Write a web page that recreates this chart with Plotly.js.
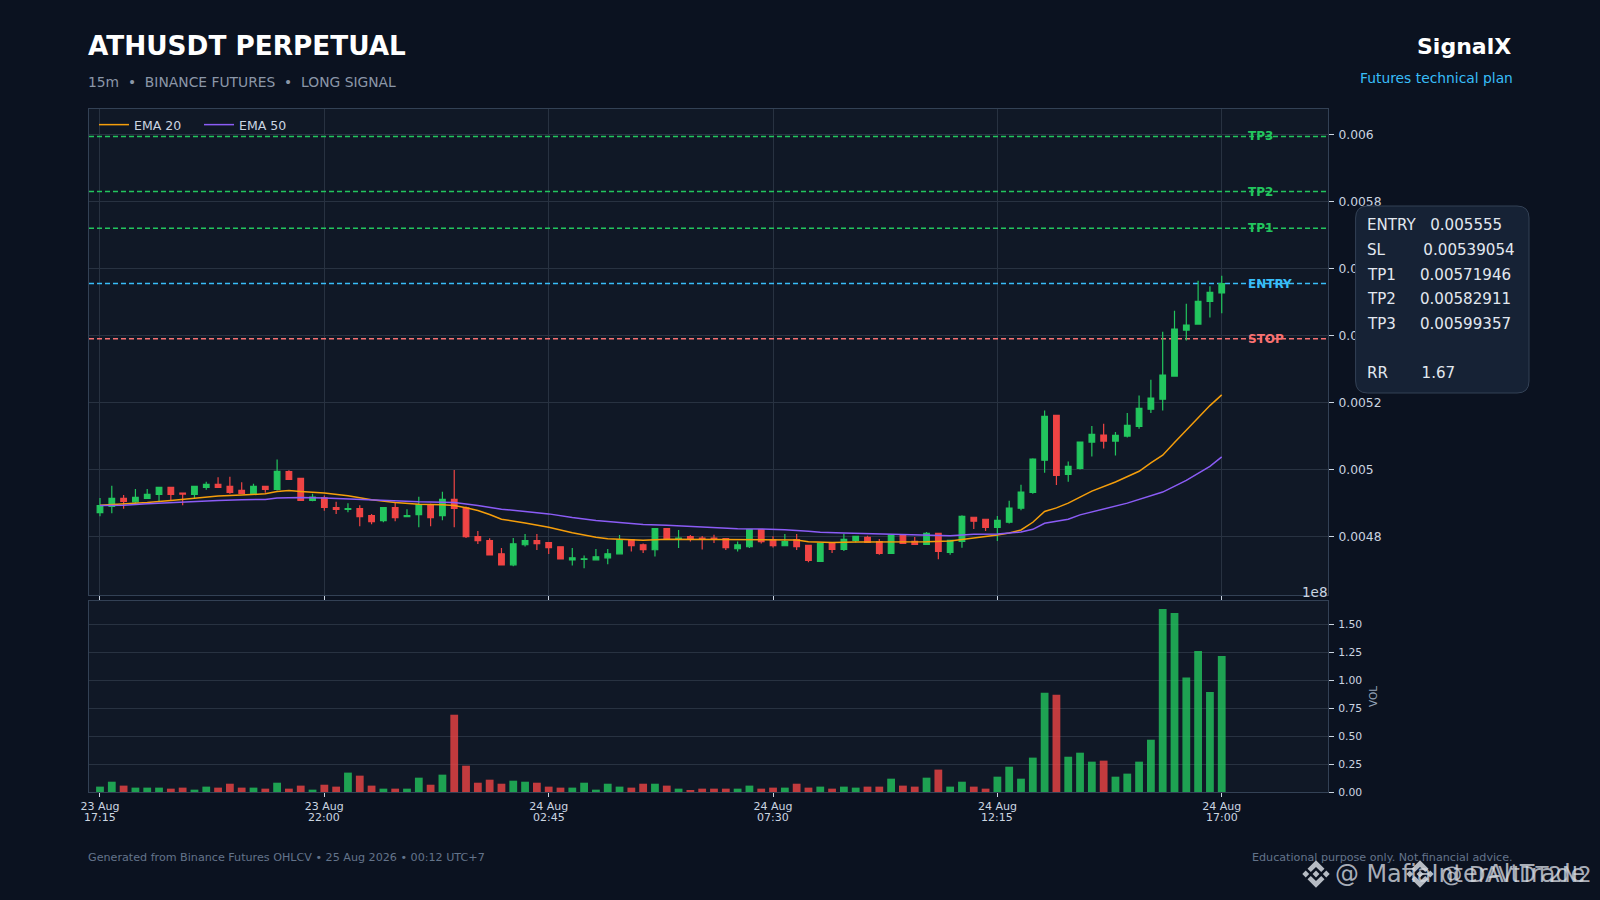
<!DOCTYPE html>
<html>
<head>
<meta charset="utf-8">
<script src="https://cdn.plot.ly/plotly-3.0.1.min.js"></script>
<style>html,body{margin:0;padding:0;background:#0b1220}#chart{width:1600px;height:900px}</style>
</head>
<body>
<div id="chart"></div>
<script>
const tick_index = [0, 19, 38, 57, 76, 95];
const tick_dates = ["23 Aug", "23 Aug", "24 Aug", "24 Aug", "24 Aug", "24 Aug"];
const tick_times = ["17:15", "22:00", "02:45", "07:30", "12:15", "17:00"];
const price_ticks = [0.0048, 0.005, 0.0052, 0.0054, 0.0056, 0.0058, 0.006];
const vol_ticks = [0, 0.25, 0.5, 0.75, 1, 1.25, 1.5];

const opens = [0.004872,0.00489,0.004914,0.004904,0.004914,0.004926,0.004947,0.00493,0.004926,0.004947,0.004956,0.00495,0.004938,0.004928,0.00495,0.004941,0.004994,0.004974,0.004908,0.004916,0.004887,0.004881,0.004884,0.004863,0.004848,0.004887,0.00486,0.004866,0.004896,0.004863,0.004911,0.004886,0.0048,0.004788,0.004749,0.004716,0.004776,0.004788,0.004782,0.00477,0.004731,0.004732,0.004731,0.004737,0.004749,0.004791,0.004776,0.004761,0.004824,0.004792,0.0048,0.004796,0.004796,0.004794,0.004764,0.00477,0.004821,0.004791,0.004773,0.004791,0.004774,0.004726,0.00478,0.004762,0.004789,0.004798,0.004785,0.00475,0.004804,0.004786,0.004777,0.00481,0.004753,0.004786,0.004858,0.004852,0.004828,0.004843,0.004885,0.004932,0.005028,0.005162,0.004986,0.005004,0.005082,0.005103,0.005085,0.0051,0.005129,0.00518,0.00521,0.005279,0.005416,0.005434,0.005502,0.005527];
const highs = [0.004915,0.004952,0.004924,0.004942,0.004942,0.004947,0.004948,0.004932,0.00495,0.004964,0.004977,0.004979,0.004962,0.004958,0.004952,0.00503,0.004998,0.004976,0.004928,0.004923,0.004904,0.0049,0.004894,0.004868,0.004887,0.004903,0.004882,0.004919,0.004898,0.004934,0.004999,0.00489,0.004817,0.004795,0.004766,0.004796,0.004808,0.004808,0.004782,0.004771,0.004766,0.004744,0.004763,0.004763,0.004805,0.004791,0.00478,0.004824,0.004826,0.00482,0.004805,0.004802,0.004806,0.004794,0.004786,0.004821,0.004821,0.004801,0.004808,0.004808,0.004774,0.004781,0.00478,0.004809,0.004801,0.004803,0.004793,0.004804,0.004804,0.004799,0.004814,0.00481,0.004791,0.004864,0.004858,0.004852,0.004862,0.004907,0.004955,0.005034,0.005176,0.005162,0.005024,0.005082,0.00513,0.005137,0.005112,0.005169,0.005221,0.005268,0.005411,0.005474,0.005495,0.005563,0.005547,0.005578];
const lows = [0.004861,0.00487,0.004883,0.004898,0.004914,0.004906,0.004908,0.004894,0.004914,0.00494,0.004947,0.004928,0.004929,0.004928,0.004931,0.004938,0.00497,0.004908,0.004906,0.004877,0.004868,0.004873,0.004831,0.004837,0.004843,0.004846,0.004858,0.004828,0.004831,0.004849,0.004828,0.004796,0.004778,0.004744,0.004714,0.004712,0.004771,0.00476,0.004748,0.004733,0.004714,0.004706,0.00473,0.004718,0.004749,0.004756,0.004751,0.004741,0.004792,0.004766,0.004786,0.004762,0.004781,0.00476,0.004756,0.004766,0.00478,0.004768,0.004773,0.00476,0.004724,0.004725,0.004751,0.004757,0.004783,0.004781,0.004746,0.004748,0.00478,0.004775,0.004777,0.004733,0.004746,0.004767,0.004823,0.004817,0.004787,0.004839,0.004879,0.004928,0.004991,0.004954,0.004964,0.005,0.005039,0.005063,0.005042,0.005096,0.005122,0.005169,0.005176,0.005277,0.005385,0.005434,0.005454,0.005466];
const closes = [0.004893,0.004914,0.004905,0.004917,0.004926,0.004947,0.004926,0.004927,0.00495,0.004956,0.004947,0.004932,0.004929,0.00495,0.004941,0.004995,0.004971,0.004908,0.004918,0.004887,0.004881,0.004884,0.00486,0.004845,0.004887,0.004857,0.004863,0.004896,0.004857,0.004911,0.004884,0.0048,0.004788,0.004746,0.004716,0.004779,0.004788,0.004779,0.004767,0.004734,0.004737,0.004734,0.00474,0.004749,0.004791,0.004773,0.004761,0.004824,0.004794,0.004796,0.004792,0.004792,0.004792,0.004767,0.004776,0.004821,0.004785,0.004773,0.004785,0.00477,0.004729,0.00478,0.004762,0.004792,0.004801,0.004783,0.00475,0.004804,0.00478,0.004777,0.00481,0.004756,0.004789,0.004861,0.004846,0.004828,0.004849,0.004885,0.004933,0.005031,0.005159,0.004983,0.00501,0.005082,0.005105,0.005085,0.005102,0.005132,0.005183,0.005213,0.005282,0.005419,0.005431,0.005502,0.005529,0.005555];
const volumes_1e8 = [0.048,0.092,0.057,0.039,0.039,0.039,0.03,0.039,0.021,0.048,0.039,0.074,0.039,0.039,0.03,0.083,0.03,0.057,0.021,0.065,0.048,0.173,0.146,0.057,0.03,0.03,0.03,0.128,0.065,0.155,0.69,0.235,0.083,0.11,0.074,0.101,0.092,0.083,0.048,0.039,0.039,0.083,0.021,0.074,0.048,0.039,0.074,0.074,0.057,0.03,0.012,0.03,0.03,0.03,0.03,0.057,0.03,0.039,0.039,0.074,0.039,0.048,0.03,0.048,0.039,0.048,0.048,0.119,0.057,0.048,0.128,0.2,0.048,0.092,0.048,0.03,0.137,0.226,0.119,0.307,0.887,0.869,0.315,0.351,0.271,0.28,0.137,0.164,0.271,0.467,1.634,1.598,1.022,1.259,0.893,1.214];

const ema20_index = [0,2,4,6,8,10,12,14,15,16,17,19,21,23,25,27,29,30,31,32,33,34,36,38,40,42,43,45,46,48,50,52,54,56,58,59,60,62,64,66,68,70,72,73,74,76,77,78,79,80,81,82,83,84,86,87,88,89,90,91,92,93,94,95];
const ema20_values = [0.004894,0.004897,0.004902,0.004908,0.004914,0.004921,0.004924,0.004928,0.004935,0.004938,0.004935,0.00493,0.004922,0.00491,0.004902,0.004897,0.004895,0.004893,0.004886,0.004878,0.004866,0.004852,0.004841,0.004828,0.004812,0.004798,0.004794,0.004791,0.004789,0.004792,0.004792,0.004792,0.004791,0.004792,0.004791,0.00479,0.004785,0.004783,0.004784,0.004784,0.004784,0.004785,0.004787,0.004791,0.004796,0.004805,0.004811,0.00482,0.004843,0.004875,0.004886,0.0049,0.004918,0.004936,0.004963,0.004978,0.004995,0.00502,0.005043,0.005081,0.005117,0.005154,0.005191,0.005223];
const ema50_index = [0,2,4,6,8,10,12,14,15,16,17,19,21,23,25,27,29,30,32,34,36,38,40,42,44,46,48,50,52,54,56,58,60,61,63,65,67,69,71,72,74,76,78,79,80,82,83,85,87,90,92,94,95];
const ema50_values = [0.004893,0.004894,0.004898,0.004902,0.004905,0.004908,0.00491,0.004911,0.004915,0.004917,0.004917,0.004915,0.004912,0.004909,0.004906,0.004904,0.004903,0.004902,0.004893,0.004882,0.004875,0.004868,0.004857,0.004848,0.004842,0.004836,0.004834,0.00483,0.004827,0.004824,0.004823,0.004821,0.004816,0.004813,0.004811,0.004809,0.004806,0.004804,0.004803,0.004803,0.004807,0.004808,0.004814,0.004822,0.00484,0.004852,0.004865,0.004882,0.0049,0.004933,0.004968,0.00501,0.005038];

const level_names = ["TP3", "TP2", "TP1", "ENTRY", "STOP"];
const level_values = [0.00599357, 0.00582911, 0.00571946, 0.005555, 0.00539054];
const level_colors = ["#22c55e", "#22c55e", "#22c55e", "#38bdf8", "#f87171"];

const info_rows = ["ENTRY\u00a0\u00a0\u00a00.005555", "SL\u00a0\u00a0\u00a0\u00a0\u00a0\u00a0\u00a0\u00a00.00539054", "TP1\u00a0\u00a0\u00a0\u00a0\u00a00.00571946", "TP2\u00a0\u00a0\u00a0\u00a0\u00a00.00582911", "TP3\u00a0\u00a0\u00a0\u00a0\u00a00.00599357", "RR\u00a0\u00a0\u00a0\u00a0\u00a0\u00a0\u00a01.67"];
const info_row_pixels = [225, 250, 275, 299, 324, 373];

const W = 1600, H = 900;
const px = v => v / W, py = v => 1 - v / H;
const index = opens.map((_, i) => i);
const UP = "#22c55e", DOWN = "#ef4444";
const FONT = "DejaVu Sans";
const GRID = "#283241", BORDER = "#334155", TICK = "#cbd5e1";
const X_RANGE = [-0.931, 104];

const traces = [
  {type: "candlestick", x: index, open: opens, high: highs, low: lows, close: closes, xaxis: "x", yaxis: "y",
   showlegend: false, whiskerwidth: 0, hoverinfo: "skip",
   increasing: {line: {color: UP, width: 1.2}, fillcolor: UP},
   decreasing: {line: {color: DOWN, width: 1.2}, fillcolor: DOWN}},
  {type: "scatter", mode: "lines", name: "EMA 20", x: ema20_index, y: ema20_values, xaxis: "x", yaxis: "y",
   line: {color: "#f59e0b", width: 1.5}, hoverinfo: "skip"},
  {type: "scatter", mode: "lines", name: "EMA 50", x: ema50_index, y: ema50_values, xaxis: "x", yaxis: "y",
   line: {color: "#8b5cf6", width: 1.5}, hoverinfo: "skip"},
  {type: "bar", x: index, y: volumes_1e8, xaxis: "x2", yaxis: "y2", showlegend: false, width: 0.66,
   opacity: 0.8, marker: {color: index.map(i => closes[i] >= opens[i] ? UP : DOWN), line: {width: 0}}, hoverinfo: "skip"}
];

function logoPath(s) {
  const poly = pts => "M" + pts.map(p => (p[0] * s).toFixed(2) + "," + (p[1] * s).toFixed(2)).join(" L") + " Z ";
  const dia = (cx, cy, r) => poly([[cx, cy - r], [cx + r, cy], [cx, cy + r], [cx - r, cy]]);
  return dia(0, 0, 0.25) + dia(-0.75, 0, 0.25) + dia(0.75, 0, 0.25) +
    poly([[0, -1], [0.62, -0.38], [0.38, -0.14], [0, -0.52], [-0.38, -0.14], [-0.62, -0.38]]) +
    poly([[0, 1], [0.62, 0.38], [0.38, 0.14], [0, 0.52], [-0.38, 0.14], [-0.62, 0.38]]);
}
function roundBox(hw, hh, r) {
  return `M${-hw + r},${-hh} L${hw - r},${-hh} Q${hw},${-hh} ${hw},${-hh + r} L${hw},${hh - r} Q${hw},${hh} ${hw - r},${hh} L${-hw + r},${hh} Q${-hw},${hh} ${-hw},${hh - r} L${-hw},${-hh + r} Q${-hw},${-hh} ${-hw + r},${-hh} Z`;
}

const shapes = level_values.map((v, i) => ({
  type: "line", xref: "x", yref: "y", x0: X_RANGE[0], x1: X_RANGE[1], y0: v, y1: v, layer: "between",
  line: {color: level_colors[i], width: 1.5, dash: "5px,3px"}
}));
shapes.push({type: "path", xref: "paper", yref: "paper", xsizemode: "pixel", ysizemode: "pixel",
  xanchor: px(1442.3), yanchor: py(299.5), path: roundBox(86.7, 93.5, 12), layer: "above",
  fillcolor: "#162235", line: {color: "#334155", width: 1}});
[1316, 1420].forEach(cx => shapes.push({type: "path", xref: "paper", yref: "paper", xsizemode: "pixel", ysizemode: "pixel",
  xanchor: px(cx), yanchor: py(874), path: logoPath(13.7), layer: "above", opacity: 0.85,
  fillcolor: "#d5d9e0", line: {width: 0}}));

const note = (text, x, y, size, color, anchor, bold) => ({
  text: bold ? "<b>" + text + "</b>" : text, xref: "paper", yref: "paper", x: px(x), y: py(y),
  xanchor: anchor, yanchor: "middle", showarrow: false, font: {family: FONT, size: size, color: color}
});
const annotations = [
  note("15m\u00a0\u00a0•\u00a0\u00a0BINANCE FUTURES\u00a0\u00a0•\u00a0\u00a0LONG SIGNAL", 86, 82, 13.85, "#8b97a8", "left"),
  note("SignalX", 1513, 47, 22, "#ffffff", "right", true),
  note("Futures technical plan", 1515, 78, 13.85, "#38bdf8", "right"),
  note("Generated from Binance Futures OHLCV • 25 Aug 2026 • 00:12 UTC+7", 86, 857, 11.15, "#64748b", "left"),
  note("Educational purpose only. Not financial advice.", 1515, 857, 11.15, "#64748b", "right"),
  note("1e8", 1329, 591.5, 13.5, TICK, "right"),
  note("@ MafiaInterAltTrade", 1332.5, 874, 23.9, "rgba(213,217,224,0.8)", "left"),
  note("@ DAVIDT2N2", 1439, 874, 21.3, "rgba(213,217,224,0.8)", "left")
];
level_names.forEach((name, i) => annotations.push({
  text: "<b>" + name + "</b>", xref: "x", yref: "y", x: 97.03, y: level_values[i], xanchor: "left", yanchor: "middle",
  showarrow: false, font: {family: FONT, size: 12, color: level_colors[i]}
}));
info_rows.forEach((row, i) => annotations.push(note(row, 1365, info_row_pixels[i], 15.1, "#e2e8f0", "left")));
tick_times.forEach((t, i) => annotations.push({
  text: t, xref: "x2", yref: "paper", x: tick_index[i], y: py(817.5), xanchor: "center", yanchor: "middle",
  showarrow: false, font: {family: FONT, size: 11, color: TICK}
}));

const xBase = {type: "linear", range: X_RANGE, tickmode: "array", tickvals: tick_index, ticks: "outside", ticklen: 4, tickwidth: 1,
  tickcolor: TICK, showline: true, mirror: true, linecolor: BORDER, linewidth: 1, zeroline: false, tickfont: {family: FONT, size: 11, color: TICK}};

const layout = {
  width: W, height: H, margin: {l: 0, r: 0, t: 0, b: 0}, autosize: false,
  paper_bgcolor: "#0b1220", plot_bgcolor: "#101826", font: {family: FONT, color: TICK},
  title: {text: "<b>ATHUSDT PERPETUAL</b>", x: px(88), xref: "paper", xanchor: "left", y: py(46), yref: "paper", yanchor: "middle",
          font: {family: FONT, size: 26.3, color: "#ffffff"}},
  boxgap: 0.32, bargap: 0.34, dragmode: false,
  showlegend: true,
  legend: {orientation: "h", x: px(94), y: py(110), xanchor: "left", yanchor: "top", bgcolor: "rgba(0,0,0,0)",
           entrywidth: 60, entrywidthmode: "pixels", font: {family: FONT, size: 12.5, color: TICK}},
  xaxis: Object.assign({}, xBase, {domain: [px(89), px(1328)], anchor: "y", showticklabels: false, showgrid: true, gridcolor: GRID, gridwidth: 1,
    rangeslider: {visible: false}}),
  yaxis: {domain: [py(595), py(109)], anchor: "x", side: "right", range: [0.0046261, 0.0060754], tickmode: "array", tickvals: price_ticks,
    ticktext: price_ticks.map(String), ticks: "outside", ticklen: 5, tickwidth: 1, tickcolor: TICK, showgrid: true, gridcolor: GRID, zeroline: false,
    showline: true, mirror: true, linecolor: BORDER, ticklabelstandoff: 2, tickfont: {family: FONT, size: 12.3, color: TICK}},
  xaxis2: Object.assign({}, xBase, {domain: [px(89), px(1328)], anchor: "y2", showticklabels: true, ticktext: tick_dates, showgrid: false}),
  yaxis2: {domain: [py(792), py(601)], anchor: "x2", side: "right", range: [0, 1.7054], tickmode: "array", tickvals: vol_ticks,
    ticktext: vol_ticks.map(v => v.toFixed(2)), ticks: "outside", ticklen: 5, tickwidth: 1, tickcolor: TICK, showgrid: true, gridcolor: GRID, zeroline: false,
    showline: true, mirror: true, linecolor: BORDER, ticklabelstandoff: 2, tickfont: {family: FONT, size: 10.8, color: TICK},
    title: {text: "VOL", font: {family: FONT, size: 10.5, color: "#94a3b8"}, standoff: 8}},
  shapes: shapes, annotations: annotations
};
Plotly.newPlot("chart", traces, layout, {displayModeBar: false, responsive: false});
</script>
</body>
</html>
